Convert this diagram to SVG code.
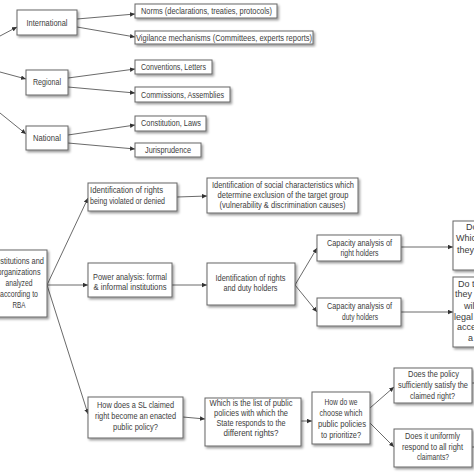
<svg xmlns="http://www.w3.org/2000/svg" width="474" height="474" viewBox="0 0 474 474">
<defs>
<filter id="sh" x="-20%" y="-20%" width="140%" height="150%">
<feDropShadow dx="1.5" dy="1.8" stdDeviation="1" flood-color="#000" flood-opacity="0.4"/>
</filter>
<marker id="ah" markerUnits="userSpaceOnUse" markerWidth="6" markerHeight="5" refX="5" refY="2.25" orient="auto">
<path d="M0,0 L5,2.25 L0,4.5 z" fill="#333"/>
</marker>
</defs>
<style>
.b{fill:#fff;stroke:#666;stroke-width:1;filter:url(#sh)}
.t{font-family:"Liberation Sans",Arial,sans-serif;font-size:9px;fill:#3c3c3c;text-anchor:middle}
.l{text-anchor:start}
.c line{stroke:#444;stroke-width:0.8;marker-end:url(#ah)}
.c line.s{marker-end:none}
</style>
<rect width="474" height="474" fill="#fff"/>
<g class="c" id="connectors">
<line x1="0" y1="36" x2="17" y2="27"/>
<line x1="77" y1="19" x2="135" y2="14"/>
<line x1="77" y1="27" x2="135" y2="37"/>
<line x1="0" y1="72" x2="26" y2="79"/>
<line x1="68" y1="78" x2="135" y2="69"/>
<line x1="68" y1="87" x2="135" y2="93"/>
<line x1="0" y1="113" x2="26" y2="134"/>
<line x1="68" y1="135" x2="135" y2="125"/>
<line x1="68" y1="143" x2="135" y2="149"/>
<line x1="47" y1="285" x2="88" y2="198"/>
<line x1="47" y1="285" x2="88" y2="285"/>
<line x1="47" y1="285" x2="88" y2="414"/>
<line x1="177" y1="197" x2="207" y2="196"/>
<line x1="172" y1="285" x2="207" y2="285"/>
<line x1="295" y1="285" x2="317" y2="248"/>
<line x1="295" y1="285" x2="317" y2="312"/>
<line x1="401" y1="247" x2="453" y2="247"/>
<line x1="401" y1="312" x2="453" y2="312"/>
<line x1="183" y1="417" x2="205" y2="419"/>
<line x1="301" y1="421" x2="312" y2="421"/>
<line x1="370" y1="408" x2="394" y2="387"/>
<line x1="370" y1="423" x2="394" y2="447"/>
<line class="s" x1="472" y1="383" x2="474" y2="383"/>
<line class="s" x1="472" y1="447" x2="474" y2="447"/>
</g>
<g id="international"><rect class="b" x="17" y="10" width="60" height="25"/><text class="t" x="47" y="26" textLength="41" lengthAdjust="spacingAndGlyphs">International</text></g>
<g id="norms"><rect class="b" x="135" y="4" width="142" height="14"/><text class="t" x="206.5" y="14" textLength="131" lengthAdjust="spacingAndGlyphs">Norms (declarations, treaties, protocols)</text></g>
<g id="vigilance"><rect class="b" x="135" y="31" width="178" height="13"/><text class="t" x="224" y="40.5" textLength="176" lengthAdjust="spacingAndGlyphs">Vigilance mechanisms (Committees, experts reports)</text></g>
<g id="regional"><rect class="b" x="26" y="70" width="42" height="25"/><text class="t" x="47" y="85" textLength="28" lengthAdjust="spacingAndGlyphs">Regional</text></g>
<g id="conventions"><rect class="b" x="135" y="60" width="77" height="14"/><text class="t" x="173.5" y="69.5" textLength="65" lengthAdjust="spacingAndGlyphs">Conventions, Letters</text></g>
<g id="commissions"><rect class="b" x="135" y="87" width="95" height="15"/><text class="t" x="182.5" y="97.5" textLength="83" lengthAdjust="spacingAndGlyphs">Commissions, Assemblies</text></g>
<g id="national"><rect class="b" x="26" y="126" width="42" height="24"/><text class="t" x="47" y="141" textLength="28" lengthAdjust="spacingAndGlyphs">National</text></g>
<g id="constitution"><rect class="b" x="135" y="116" width="71" height="15"/><text class="t" x="171" y="125.5" textLength="60" lengthAdjust="spacingAndGlyphs">Constitution, Laws</text></g>
<g id="jurisprudence"><rect class="b" x="135" y="143" width="66" height="14"/><text class="t" x="168" y="152.5" textLength="46" lengthAdjust="spacingAndGlyphs">Jurisprudence</text></g>
<g id="institutions"><rect class="b" x="-10" y="250" width="57" height="67"/>
<text class="t" x="19" y="264" textLength="50" lengthAdjust="spacingAndGlyphs">Institutions and</text>
<text class="t" x="19" y="275" textLength="43" lengthAdjust="spacingAndGlyphs">organizations</text>
<text class="t" x="19" y="286" textLength="27" lengthAdjust="spacingAndGlyphs">analyzed</text>
<text class="t" x="19" y="297" textLength="38" lengthAdjust="spacingAndGlyphs">according to</text>
<text class="t" x="19" y="308" textLength="13" lengthAdjust="spacingAndGlyphs">RBA</text></g>
<g id="ident-rights"><rect class="b" x="88" y="183" width="89" height="28"/>
<text class="t l" x="90" y="193" textLength="73" lengthAdjust="spacingAndGlyphs">Identification of rights</text>
<text class="t l" x="90" y="204" textLength="75" lengthAdjust="spacingAndGlyphs">being violated or denied</text></g>
<g id="power"><rect class="b" x="88" y="263" width="84" height="34"/>
<text class="t" x="130" y="280" textLength="74" lengthAdjust="spacingAndGlyphs">Power analysis: formal</text>
<text class="t" x="130" y="290" textLength="73" lengthAdjust="spacingAndGlyphs">&amp; informal institutions</text></g>
<g id="social"><rect class="b" x="207" y="178" width="151" height="35"/>
<text class="t" x="283" y="188" textLength="142" lengthAdjust="spacingAndGlyphs">Identification of social characteristics which</text>
<text class="t" x="283" y="198" textLength="131" lengthAdjust="spacingAndGlyphs">determine exclusion of the target group</text>
<text class="t" x="282.5" y="207.5" textLength="126" lengthAdjust="spacingAndGlyphs">(vulnerability &amp; discrimination causes)</text></g>
<g id="duty-holders"><rect class="b" x="207" y="263" width="88" height="42"/>
<text class="t" x="250.5" y="281" textLength="70" lengthAdjust="spacingAndGlyphs">Identification of rights</text>
<text class="t" x="250.5" y="291" textLength="54" lengthAdjust="spacingAndGlyphs">and duty holders</text></g>
<g id="cap-right"><rect class="b" x="317" y="235" width="84" height="26"/>
<text class="t" x="359.5" y="246" textLength="65" lengthAdjust="spacingAndGlyphs">Capacity analysis of</text>
<text class="t" x="359.5" y="256" textLength="38" lengthAdjust="spacingAndGlyphs">right holders</text></g>
<g id="cap-duty"><rect class="b" x="317" y="298" width="84" height="28"/>
<text class="t" x="359.5" y="309" textLength="65" lengthAdjust="spacingAndGlyphs">Capacity analysis of</text>
<text class="t" x="360" y="320" textLength="36" lengthAdjust="spacingAndGlyphs">duty holders</text></g>
<g id="right-q1"><rect class="b" x="453" y="221" width="40" height="49"/>
<text class="t l" x="466" y="230">Do</text>
<text class="t l" x="456" y="241">Which</text>
<text class="t l" x="457" y="253">they</text></g>
<g id="right-q2"><rect class="b" x="453" y="277" width="40" height="70"/>
<text class="t l" x="458" y="287">Do th</text>
<text class="t l" x="455" y="297">they l</text>
<text class="t l" x="464" y="309">wil</text>
<text class="t l" x="454" y="320">legal</text>
<text class="t l" x="457" y="330">acce</text>
<text class="t l" x="468" y="341">a</text></g>
<g id="sl-claimed"><rect class="b" x="88" y="397" width="95" height="41"/>
<text class="t" x="135.5" y="408" textLength="77" lengthAdjust="spacingAndGlyphs">How does a SL claimed</text>
<text class="t" x="135.5" y="419" textLength="81" lengthAdjust="spacingAndGlyphs">right become an enacted</text>
<text class="t" x="135.5" y="430" textLength="45" lengthAdjust="spacingAndGlyphs">public policy?</text></g>
<g id="which-list"><rect class="b" x="205" y="398" width="96" height="48"/>
<text class="t" x="251" y="406" textLength="83" lengthAdjust="spacingAndGlyphs">Which is the list of public</text>
<text class="t" x="251" y="416" textLength="74" lengthAdjust="spacingAndGlyphs">policies with which the</text>
<text class="t" x="251" y="426" textLength="69" lengthAdjust="spacingAndGlyphs">State responds to the</text>
<text class="t" x="251" y="436" textLength="55" lengthAdjust="spacingAndGlyphs">different rights?</text></g>
<g id="how-choose"><rect class="b" x="312" y="392" width="58" height="52"/>
<text class="t" x="341" y="405" textLength="33" lengthAdjust="spacingAndGlyphs">How do we</text>
<text class="t" x="341" y="416" textLength="43" lengthAdjust="spacingAndGlyphs">choose which</text>
<text class="t" x="342" y="427" textLength="48" lengthAdjust="spacingAndGlyphs">public policies</text>
<text class="t" x="341" y="438" textLength="40" lengthAdjust="spacingAndGlyphs">to prioritize?</text></g>
<g id="does-policy"><rect class="b" x="394" y="368" width="78" height="35"/>
<text class="t" x="433.5" y="377" textLength="51" lengthAdjust="spacingAndGlyphs">Does the policy</text>
<text class="t" x="433" y="388" textLength="70" lengthAdjust="spacingAndGlyphs">sufficiently satisfy the</text>
<text class="t" x="432.5" y="399" textLength="45" lengthAdjust="spacingAndGlyphs">claimed right?</text></g>
<g id="does-uniform"><rect class="b" x="394" y="429" width="78" height="38"/>
<text class="t" x="432.5" y="439" textLength="55" lengthAdjust="spacingAndGlyphs">Does it uniformly</text>
<text class="t" x="432.5" y="450" textLength="61" lengthAdjust="spacingAndGlyphs">respond to all right</text>
<text class="t" x="433" y="460" textLength="32" lengthAdjust="spacingAndGlyphs">claimants?</text></g>
</svg>
